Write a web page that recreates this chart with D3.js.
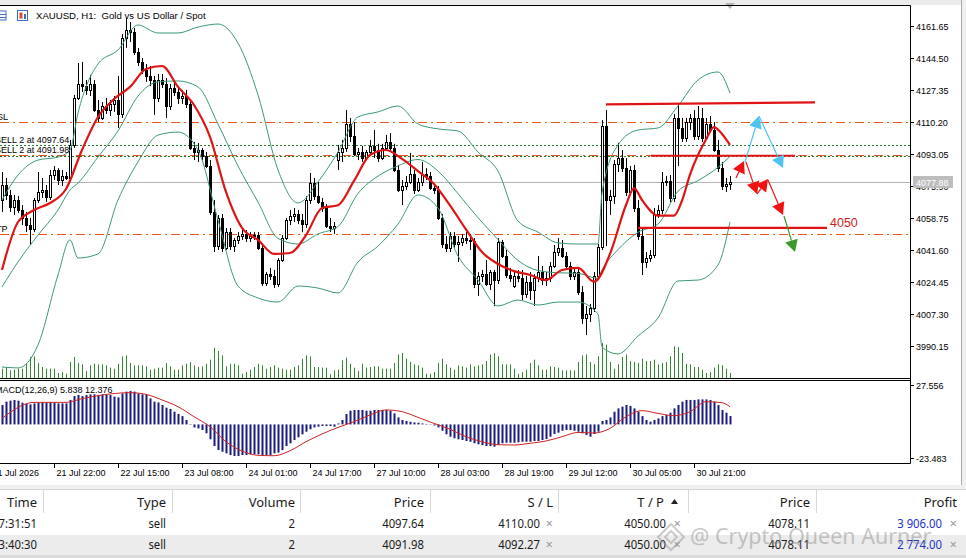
<!DOCTYPE html>
<html>
<head>
<meta charset="utf-8">
<script src="https://cdn.jsdelivr.net/npm/d3@7"></script>
<style>
  html, body { margin: 0; padding: 0; background: #fff; overflow: hidden; }
  svg { display: block; font-family: "Liberation Sans", Arial, sans-serif; }
</style>
</head>
<body>
<div id="chart"></div>
<script>
// XAUUSD H1 candles, bar index 0..182 (one bar per hour)
const opens = [
  4068.4,4076.4,4071.1,4064.7,4068.4,4063.0,4058.8,4055.0,4052.9,4068.4,
  4072.7,4073.8,4070.0,4081.8,4084.5,4079.1,4081.3,4080.2,4097.9,4123.1,
  4130.6,4129.5,4127.4,4130.6,4116.6,4112.4,4118.8,4116.6,4119.9,4122.0,
  4114.5,4155.2,4159.5,4158.4,4147.7,4142.4,4138.1,4134.9,4132.7,4123.1,
  4132.7,4130.6,4118.8,4128.4,4126.3,4123.1,4124.1,4119.9,4096.3,4094.2,
  4095.2,4092.0,4086.6,4062.0,4043.7,4058.8,4042.7,4051.2,4043.7,4047.0,
  4049.1,4050.2,4048.0,4049.1,4049.5,4042.7,4023.9,4028.7,4027.7,4023.4,
  4036.2,4048.0,4057.7,4059.8,4060.9,4057.7,4055.5,4068.4,4077.5,4070.5,
  4067.3,4064.1,4054.5,4053.4,4089.8,4094.2,4096.3,4109.2,4102.7,4093.1,
  4094.2,4090.9,4094.2,4097.4,4095.2,4090.9,4096.3,4099.5,4096.3,4084.5,
  4073.8,4075.9,4078.1,4082.3,4073.8,4078.1,4082.3,4081.3,4074.8,4073.8,
  4058.8,4044.8,4042.7,4049.1,4044.8,4045.9,4048.0,4047.0,4046.5,4023.4,
  4027.7,4028.7,4023.4,4029.8,4025.5,4045.9,4038.4,4028.2,4022.3,4027.7,
  4026.6,4018.0,4024.4,4020.2,4026.6,4029.8,4025.5,4026.6,4033.0,4040.5,
  4042.7,4038.4,4033.0,4027.7,4029.8,4019.1,4005.2,4007.3,4010.5,4027.7,
  4043.2,4108.1,4068.4,4070.5,4087.7,4090.9,4085.5,4072.7,4084.5,4064.1,
  4049.1,4035.2,4037.3,4038.9,4060.9,4063.0,4078.1,4078.6,4069.5,4112.4,
  4107.0,4101.7,4110.2,4112.4,4102.7,4112.4,4101.7,4109.2,4105.9,4095.2,
  4085.5,4075.9,4077.0
];
const highs = [
  4083.4,4080.2,4073.8,4071.1,4070.5,4065.7,4062.0,4058.8,4069.5,4083.4,
  4080.2,4076.4,4084.5,4086.6,4085.5,4084.5,4083.4,4100.6,4124.7,4141.8,
  4142.4,4132.7,4135.4,4132.7,4122.0,4120.9,4123.1,4122.0,4124.1,4134.9,
  4157.4,4165.9,4163.8,4160.6,4149.9,4144.5,4141.3,4140.2,4134.9,4135.9,
  4135.9,4133.8,4130.6,4131.7,4128.4,4127.4,4127.4,4122.0,4099.5,4099.0,
  4096.3,4094.2,4089.8,4068.4,4060.4,4060.9,4053.4,4053.4,4048.0,4051.2,
  4052.3,4052.3,4051.2,4051.2,4051.2,4044.3,4029.8,4032.0,4030.9,4037.3,
  4049.6,4058.8,4063.0,4064.1,4063.0,4060.9,4070.5,4082.9,4080.2,4078.1,
  4069.5,4066.3,4058.8,4056.6,4097.9,4100.6,4116.6,4112.4,4110.2,4096.3,
  4097.4,4095.2,4100.6,4105.9,4098.5,4098.5,4103.3,4104.3,4098.5,4087.2,
  4079.1,4081.3,4093.6,4084.5,4080.2,4088.8,4085.5,4083.4,4077.0,4075.9,
  4060.9,4049.1,4051.2,4051.2,4049.1,4050.2,4051.2,4050.2,4048.0,4029.8,
  4030.9,4036.2,4030.9,4031.0,4048.0,4047.0,4041.6,4032.0,4029.8,4030.9,
  4030.9,4027.7,4029.8,4028.7,4038.4,4033.0,4029.8,4035.2,4044.3,4048.0,
  4047.0,4040.5,4035.2,4032.0,4032.0,4022.3,4011.6,4012.7,4029.8,4044.8,
  4111.3,4116.6,4073.8,4089.8,4099.0,4095.2,4090.9,4086.6,4087.2,4068.4,
  4053.4,4040.5,4041.6,4064.1,4065.7,4083.4,4081.3,4081.8,4114.5,4120.4,
  4112.4,4112.4,4114.5,4116.6,4118.8,4117.7,4112.4,4113.4,4110.2,4100.6,
  4088.8,4080.2,4081.3
];
const lows = [
  4062.0,4068.4,4062.0,4060.4,4061.4,4055.0,4051.2,4044.3,4051.2,4066.8,
  4069.5,4067.3,4068.4,4079.1,4076.4,4075.9,4079.1,4078.1,4096.3,4122.0,
  4126.3,4124.7,4124.1,4115.6,4110.2,4111.3,4114.5,4113.4,4115.6,4107.0,
  4112.4,4149.9,4153.1,4146.1,4140.2,4135.9,4131.7,4129.5,4114.0,4120.9,
  4128.4,4112.4,4116.6,4124.1,4119.9,4119.9,4117.7,4095.2,4089.8,4088.8,
  4089.8,4085.5,4060.4,4040.5,4041.6,4040.5,4041.6,4041.6,4040.5,4044.8,
  4047.0,4045.9,4045.9,4047.0,4041.6,4022.3,4022.3,4025.5,4021.2,4021.8,
  4035.2,4047.0,4055.0,4056.6,4055.5,4051.2,4053.4,4066.3,4068.4,4066.3,
  4062.0,4053.4,4051.2,4050.2,4084.5,4088.8,4094.2,4099.5,4092.0,4089.8,
  4088.8,4089.8,4092.0,4090.9,4088.8,4089.8,4095.2,4094.2,4083.4,4072.7,
  4065.7,4073.8,4077.0,4071.6,4072.7,4075.9,4079.1,4073.8,4071.6,4057.7,
  4042.7,4040.5,4040.5,4042.7,4035.2,4043.7,4044.8,4041.6,4021.2,4017.0,
  4024.4,4022.3,4020.2,4011.6,4023.4,4037.3,4026.6,4024.4,4021.2,4024.4,
  4014.8,4015.9,4014.8,4011.6,4024.4,4022.8,4022.3,4024.4,4032.0,4038.4,
  4037.3,4032.0,4025.5,4025.5,4017.5,4002.0,3996.0,4003.0,4008.4,4025.5,
  4041.6,4043.7,4060.4,4066.3,4083.4,4083.4,4070.5,4071.1,4062.0,4047.0,
  4028.2,4032.0,4035.2,4037.3,4058.8,4060.9,4075.9,4067.3,4067.3,4086.6,
  4099.5,4099.5,4105.9,4100.6,4100.6,4099.5,4100.6,4104.8,4094.2,4083.4,
  4073.8,4072.7,4073.8
];
const closes = [
  4076.4,4071.1,4064.7,4068.4,4063.0,4058.8,4055.0,4052.9,4068.4,4072.7,
  4073.8,4070.0,4081.8,4084.5,4079.1,4081.3,4080.2,4097.9,4123.1,4130.6,
  4129.5,4127.4,4130.6,4116.6,4112.4,4118.8,4116.6,4119.9,4122.0,4114.5,
  4155.2,4159.5,4158.4,4147.7,4142.4,4138.1,4134.9,4132.7,4123.1,4132.7,
  4130.6,4118.8,4128.4,4126.3,4123.1,4124.1,4119.9,4096.3,4094.2,4095.2,
  4092.0,4086.6,4062.0,4043.7,4058.8,4042.7,4051.2,4043.7,4047.0,4049.1,
  4050.2,4048.0,4049.1,4049.5,4042.7,4023.9,4028.7,4027.7,4023.4,4036.2,
  4048.0,4057.7,4059.8,4060.9,4057.7,4055.5,4068.4,4077.5,4070.5,4067.3,
  4064.1,4054.5,4053.4,4054.5,4094.2,4096.3,4109.2,4102.7,4093.1,4094.2,
  4090.9,4094.2,4097.4,4095.2,4090.9,4096.3,4099.5,4096.3,4084.5,4073.8,
  4075.9,4078.1,4082.3,4073.8,4078.1,4082.3,4081.3,4074.8,4073.8,4058.8,
  4044.8,4042.7,4049.1,4044.8,4045.9,4048.0,4047.0,4046.5,4023.4,4027.7,
  4028.7,4023.4,4029.8,4025.5,4045.9,4038.4,4028.2,4026.6,4027.7,4026.6,
  4018.0,4024.4,4020.2,4026.6,4029.8,4025.5,4026.6,4033.0,4040.5,4042.7,
  4038.4,4033.0,4027.7,4029.8,4019.1,4005.2,4007.3,4010.5,4027.7,4043.2,
  4108.1,4068.4,4070.5,4087.7,4090.9,4085.5,4072.7,4084.5,4064.1,4049.1,
  4035.2,4037.3,4038.9,4060.9,4063.0,4078.1,4078.6,4069.5,4112.4,4107.0,
  4101.7,4110.2,4112.4,4102.7,4112.4,4101.7,4109.2,4105.9,4095.2,4085.5,
  4075.9,4077.0,4077.88
];
// tick volume per bar
const volumes = [
  2800,3300,2300,2500,2800,2800,4300,6300,6500,4500,
  3300,2800,2800,2800,1500,1800,1300,4800,6300,4500,
  4100,2100,3800,4300,4100,4100,3800,3100,2800,4300,
  6500,6800,4500,3800,3800,3800,3500,2500,2800,3100,
  3100,4500,3500,2500,2500,3800,4300,4800,3800,3300,
  3500,4300,5500,9100,8100,6800,3500,4300,4300,3800,
  1300,1800,2500,3300,4300,3800,2800,3300,3800,3100,
  2800,2500,2500,3300,3800,5800,6800,6500,3300,3300,
  3100,3100,1100,2300,2500,5300,6100,4300,3100,2100,
  4300,3100,3300,3500,3500,2800,2800,2800,4500,7100,
  7500,5800,4800,4100,3800,3100,1300,1300,1800,4500,
  5800,4100,3100,2500,3800,3500,3100,4100,3500,3800,
  4100,5100,7100,7500,6500,4100,4100,4100,2800,1300,
  1800,2500,4500,5500,3800,2500,2500,3500,3300,3100,
  2300,2300,2300,2300,4800,6800,7100,4800,4100,6500,
  10500,10000,4800,2800,4100,6300,7100,5100,4800,4500,
  5800,5100,5100,5500,4100,4500,4800,6500,9500,9300,
  7500,4300,4100,3300,3300,2500,1500,1800,3100,4100,
  3800,2800,1500
];

// moving average (red) sampled at these bars
const maBars = [0,4,8,12,16,20,24,28,32,36,40,44,48,52,56,60,64,68,72,76,80,84,88,92,96,
  100,104,108,112,116,120,124,128,132,136,140,144,148,152,156,158,160,164,168,170,172,176,178,180,182];
const maValues = [4030.9,4056.6,4063.0,4066.8,4074.3,4095.2,4112.9,4122.5,4129.0,4138.6,
  4140.2,4129.0,4119.3,4102.2,4072.7,4053.4,4047.0,4039.5,4040.0,4049.6,
  4064.1,4065.6,4078.6,4092.5,4095.2,4090.4,4083.9,4077.0,4065.5,4052.6,
  4040.5,4034.1,4030.3,4028.2,4025.5,4030.9,4032.0,4024.6,4039.5,4065.7,
  4074.8,4068.4,4060.0,4060.0,4068.1,4082.0,4100.8,4107.5,4103.8,4097.9];

// Bollinger bands (green) sampled at these bars
const bandBars = [0,4,9,14,17,19,24,29,34,39,44,49,54,59,64,69,74,79,84,89,94,99,104,109,114,
  119,124,129,134,139,144,149,150,154,159,164,169,174,179,182];
const bandUpper = [4068.4,4081.8,4089.8,4091.4,4095.2,4115.0,4141.3,4148.8,4162.2,4157.9,
  4157.9,4161.1,4162.7,4152.5,4124.7,4084.5,4066.8,4078.1,4094.1,4112.9,
  4115.6,4118.8,4109.1,4106.5,4105.4,4094.1,4083.9,4057.1,4051.2,4045.4,
  4044.8,4044.8,4072.2,4097.9,4105.9,4107.0,4118.8,4132.7,4137.0,4125.7];
const bandMiddle = [4021.8,4035.2,4049.6,4063.0,4073.8,4077.5,4091.4,4105.4,4124.1,4131.7,
  4132.2,4129.0,4109.1,4086.6,4067.3,4047.8,4044.8,4050.2,4054.2,4071.9,
  4081.2,4086.7,4090.1,4083.9,4071.8,4058.9,4047.2,4036.0,4030.6,4029.4,
  4029.1,4026.4,4030.9,4041.8,4051.1,4055.5,4073.1,4078.8,4085.9,4091.8];
const bandLower = [3978.9,3978.4,3990.7,4028.2,4047.0,4037.3,4039.5,4068.4,4088.8,4103.2,
  4104.8,4095.2,4057.7,4022.3,4015.9,4013.7,4022.3,4021.2,4018.6,4035.2,
  4043.7,4055.5,4071.1,4064.1,4038.4,4025.5,4011.6,4014.8,4012.1,4013.7,
  4013.7,4007.3,3989.6,3985.9,3995.5,4005.2,4025.0,4025.5,4033.6,4056.6];

// MACD(12,26,9) main value per bar (histogram)
const macdMain = [
  13.6,15.9,16.6,17.1,16.6,15.2,14.3,14.0,14.7,15.2,
  15.4,15.4,15.4,15.2,14.7,14.7,14.7,17.1,19.8,20.6,
  19.8,20.6,21.0,21.0,20.6,21.0,20.6,20.6,19.4,18.9,
  21.7,22.9,23.4,22.9,21.7,21.0,20.6,18.2,15.9,15.4,
  13.6,11.7,10.8,8.9,7.3,5.8,3.1,0.3,-2.1,-2.8,
  -3.9,-6.2,-10.4,-15.1,-17.9,-19.1,-20.2,-21.4,-22.1,-22.1,
  -21.4,-21.4,-20.9,-20.9,-20.9,-21.4,-21.4,-21.4,-20.2,-19.7,
  -17.9,-15.1,-13.2,-10.9,-9.0,-6.9,-5.1,-3.4,-2.1,-1.6,
  -1.1,-1.1,-1.1,-1.6,0.7,3.1,7.3,9.6,10.1,10.1,
  10.1,9.6,9.6,10.1,10.1,10.1,10.1,9.6,7.7,4.9,
  3.1,2.4,1.9,1.4,1.2,0.7,0.3,-0.2,-0.7,-2.1,
  -4.4,-6.9,-8.6,-9.7,-10.4,-10.9,-11.6,-12.1,-13.2,-13.9,
  -14.4,-15.1,-15.1,-15.6,-14.4,-13.2,-12.8,-12.8,-12.8,-12.5,
  -12.1,-12.1,-12.1,-11.6,-11.6,-10.9,-10.2,-8.6,-6.7,-5.8,
  -4.4,-3.9,-3.9,-4.4,-5.1,-6.2,-7.4,-8.6,-6.7,-5.1,
  2.4,3.1,4.9,8.9,11.2,12.4,13.6,12.9,11.2,8.9,
  5.8,3.1,1.9,3.1,4.2,5.8,6.6,8.2,11.2,13.6,
  15.9,17.1,17.1,17.1,17.5,17.5,17.5,17.1,15.9,13.6,
  10.1,8.2,5.838
];
// MACD signal line sampled at these bars
const signalBars = [0,8,16,20,24,32,36,40,44,48,52,56,60,64,68,72,76,80,84,88,92,96,100,104,108,
  112,116,120,124,128,132,136,140,144,148,152,156,160,164,168,172,176,180,182];
const signalValues = [4.2,15.4,15.4,18.0,20.1,22.2,21.0,17.1,12.4,5.4,-1.6,-12.1,-18.6,-21.6,-21.9,
  -18.4,-12.1,-6.7,-2.1,1.9,6.6,10.1,8.9,4.9,0.7,-3.4,-8.6,-12.1,-14.2,-14.4,
  -13.2,-11.6,-8.6,-5.6,-6.0,-2.8,5.4,9.6,7.7,6.1,8.9,15.9,15.2,12.376];

// time axis
const timeTickBars = [-3,13,29,45,61,77,93,109,125,141,157,173];
const timeTickLabels = ["21 Jul 2026","21 Jul 22:00","22 Jul 15:00","23 Jul 08:00","24 Jul 01:00",
  "24 Jul 17:00","27 Jul 10:00","28 Jul 03:00","28 Jul 19:00","29 Jul 12:00","30 Jul 05:00","30 Jul 21:00"];
const priceTicks = [4161.65,4144.50,4127.35,4110.20,4093.05,4075.90,4058.75,4041.60,4024.45,4007.30,3990.15];
const macdTicks = [27.556,-23.483];
const bidPrice = 4077.88;

// open positions
const posTime = ["7:31:51","3:40:30"];
const posType = ["sell","sell"];
const posVolume = ["2","2"];
const posPrice = [4097.64,4091.98];
const posSL = [4110.00,4092.27];
const posTP = [4050.00,4050.00];
const posMarket = [4078.11,4078.11];
const posProfit = ["3 906.00","2 774.00"];

// hand drawn levels: from bar, to bar, price at start, price at end
const levelFromBar = [151,162.25,159];
const levelToBar = [203.25,198.25,206.25];
const levelFromPrice = [4119.6,4092.1,4053.5];
const levelToPrice = [4120.7,4092.1,4053.5];
const levelText = "4050";

// hand drawn arrows
const arrowKind = ["red","red","red","red","green","blue","blue"];
const arrowFromBar = [183.5,186,188.75,191.5,195.5,185.75,189.25];
const arrowToBar = [185.5,188.75,191.5,195.25,198.25,189.25,195.25];
const arrowFromPrice = [4080.2,4088.8,4071.6,4079.1,4059.8,4088.8,4113.4];
const arrowToPrice = [4089.3,4071.6,4079.7,4060.4,4040.5,4113.4,4085.5];

const W = 966, H = 558;
const plotRight = 910;
const svg = d3.select("#chart").append("svg").attr("width", W).attr("height", H);

const x = d3.scaleLinear().domain([0, 182]).range([2, 730]);
const y = d3.scaleLinear().domain([3990.15, 4161.65]).range([346, 26]);
const yVol = d3.scaleLinear().domain([0, 10500]).range([378, 343]);
const yMacd = d3.scaleLinear().domain([-23.483, 27.556]).range([458, 385]);

// window chrome
svg.append("rect").attr("x", 0).attr("y", 0).attr("width", W).attr("height", 5).attr("fill", "#ececec");
svg.append("rect").attr("x", 962).attr("y", 0).attr("width", 4).attr("height", 486).attr("fill", "#f0f0f0");
svg.append("line").attr("x1", 961.5).attr("x2", 961.5).attr("y1", 0).attr("y2", 486).attr("stroke", "#a8a8a8");
svg.append("path").attr("d", "M725,3 L735,3 L730,9 Z").attr("fill", "#b4b4b4");

const defs = svg.append("defs");
defs.append("clipPath").attr("id", "clipMain").append("rect")
  .attr("x", 0).attr("y", 6).attr("width", plotRight).attr("height", 372);
defs.append("clipPath").attr("id", "clipMacd").append("rect")
  .attr("x", 0).attr("y", 381).attr("width", plotRight).attr("height", 82);

const main = svg.append("g").attr("clip-path", "url(#clipMain)");

// bid line
main.append("line").attr("x1", 0).attr("x2", plotRight)
  .attr("y1", Math.round(y(bidPrice)) + 0.5).attr("y2", Math.round(y(bidPrice)) + 0.5)
  .attr("stroke", "#b4b4b4");

// trade levels: entries (green dots), stops and targets (orange dash-dot)
function levelLine(price, color, dash) {
  const yy = Math.round(y(price)) + 0.5;
  main.append("line").attr("x1", 0).attr("x2", plotRight).attr("y1", yy).attr("y2", yy)
    .attr("stroke", color).attr("stroke-dasharray", dash);
}
posPrice.forEach((p) => levelLine(p, "#2a7d2a", "2,2"));
posSL.forEach((p) => levelLine(p, "#e8561c", "9,4,2,4"));
levelLine(posTP[0], "#e8561c", "9,4,2,4");

// volumes
main.selectAll(".vol").data(volumes).enter().append("line")
  .attr("x1", (d, i) => Math.round(x(i)) + 0.5).attr("x2", (d, i) => Math.round(x(i)) + 0.5)
  .attr("y1", 378).attr("y2", (d) => yVol(d))
  .attr("stroke", "#2e8b2e").attr("stroke-width", 1);

// candles
const candles = main.selectAll(".candle").data(closes).enter().append("g");
candles.append("line")
  .attr("x1", (d, i) => Math.round(x(i)) + 0.5).attr("x2", (d, i) => Math.round(x(i)) + 0.5)
  .attr("y1", (d, i) => y(highs[i])).attr("y2", (d, i) => y(lows[i]))
  .attr("stroke", "#000");
candles.append("rect")
  .attr("x", (d, i) => Math.round(x(i)) - 0.5)
  .attr("y", (d, i) => Math.round(y(Math.max(opens[i], d))) + 0.5)
  .attr("width", 2)
  .attr("height", (d, i) => Math.max(0, Math.round(y(Math.min(opens[i], d))) - Math.round(y(Math.max(opens[i], d)))))
  .attr("fill", (d, i) => (d >= opens[i] ? "#fff" : "#000"))
  .attr("stroke", "#000");

// bollinger bands
const bandLine = d3.line().x((d) => x(d[0])).y((d) => y(d[1])).curve(d3.curveMonotoneX);
[bandUpper, bandMiddle, bandLower].forEach((band) => {
  main.append("path").datum(bandBars.map((b, i) => [b, band[i]]))
    .attr("d", bandLine).attr("fill", "none")
    .attr("stroke", "#3d9a76").attr("stroke-width", 1);
});

// moving average
main.append("path").datum(maBars.map((b, i) => [b, maValues[i]]))
  .attr("d", bandLine).attr("fill", "none")
  .attr("stroke", "#dd1515").attr("stroke-width", 2.2);

// trade labels (cut at the left edge like in the terminal)
const tradeLabels = [
  { t: "SL", p: posSL[0], dx: -3 },
  { t: "SELL 2 at " + posPrice[0].toFixed(2), p: posPrice[0], dx: -5 },
  { t: "SELL 2 at " + posPrice[1].toFixed(2), p: posPrice[1], dx: -5 },
  { t: "TP", p: posTP[0], dx: -4 },
];
main.selectAll(".tlabel").data(tradeLabels).enter().append("text")
  .attr("x", (d) => d.dx).attr("y", (d) => y(d.p) - 2.5)
  .attr("font-size", 9).attr("fill", "#000").text((d) => d.t);

// hand drawn levels
levelFromBar.forEach((b, i) => {
  main.append("line")
    .attr("x1", x(b)).attr("x2", x(levelToBar[i]))
    .attr("y1", y(levelFromPrice[i])).attr("y2", y(levelToPrice[i]))
    .attr("stroke", "#e01414").attr("stroke-width", 2.2);
});
main.append("text").attr("x", x(levelToBar[2]) + 3).attr("y", y(levelToPrice[2]) - 1)
  .attr("font-size", 12.5).attr("fill", "#d41a1a").text(levelText);

// hand drawn arrows
const arrowColor = { red: "#f01212", green: "#3b982b", blue: "#4fc3ef" };
arrowKind.forEach((k, i) => {
  const x0 = x(arrowFromBar[i]), y0 = y(arrowFromPrice[i]);
  const x1 = x(arrowToBar[i]), y1 = y(arrowToPrice[i]);
  const len = Math.hypot(x1 - x0, y1 - y0);
  const ux = (x1 - x0) / len, uy = (y1 - y0) / len;
  const hl = 12, hw = 6.5;
  const bx = x1 - ux * hl, by = y1 - uy * hl;
  main.append("line").attr("x1", x0).attr("y1", y0).attr("x2", bx).attr("y2", by)
    .attr("stroke", arrowColor[k]).attr("stroke-width", 1.2);
  main.append("path")
    .attr("d", `M${x1},${y1} L${bx - uy * hw},${by + ux * hw} L${bx + uy * hw},${by - ux * hw} Z`)
    .attr("fill", arrowColor[k]);
});

// title
const title = svg.append("g");
title.append("rect").attr("x", -4).attr("y", 11).attr("width", 10).attr("height", 9)
  .attr("fill", "#fff").attr("stroke", "#3a6fc4");
title.append("line").attr("x1", -4).attr("x2", 6).attr("y1", 14.5).attr("y2", 14.5).attr("stroke", "#3a6fc4");
title.append("line").attr("x1", -4).attr("x2", 6).attr("y1", 17.5).attr("y2", 17.5).attr("stroke", "#3a6fc4");
title.append("rect").attr("x", 17.5).attr("y", 10.5).attr("width", 10).attr("height", 10)
  .attr("fill", "#fff").attr("stroke", "#3a6fc4");
title.append("rect").attr("x", 19.5).attr("y", 12.5).attr("width", 3).attr("height", 6).attr("fill", "#e04a2a");
title.append("rect").attr("x", 24).attr("y", 14).attr("width", 2).attr("height", 5).attr("fill", "#3a6fc4");
title.append("text").attr("x", 36).attr("y", 19).attr("font-size", 9.6).attr("fill", "#000")
  .attr("xml:space", "preserve").text("XAUUSD, H1:  Gold vs US Dollar / Spot");

// panel frames
svg.append("line").attr("x1", 0).attr("x2", plotRight + 0.5).attr("y1", 5.5).attr("y2", 5.5).attr("stroke", "#000");
svg.append("line").attr("x1", plotRight + 0.5).attr("x2", plotRight + 0.5).attr("y1", 5.5).attr("y2", 463.5).attr("stroke", "#000");
svg.append("line").attr("x1", 0).attr("x2", plotRight).attr("y1", 378.5).attr("y2", 378.5).attr("stroke", "#000");
svg.append("line").attr("x1", 0).attr("x2", plotRight).attr("y1", 380.5).attr("y2", 380.5).attr("stroke", "#000");
svg.append("line").attr("x1", 0).attr("x2", plotRight + 0.5).attr("y1", 463.5).attr("y2", 463.5).attr("stroke", "#000");

// price axis
const pAxis = svg.append("g");
priceTicks.forEach((p) => {
  const yy = Math.round(y(p)) + 0.5;
  pAxis.append("line").attr("x1", plotRight).attr("x2", plotRight + 4).attr("y1", yy).attr("y2", yy).attr("stroke", "#000");
  pAxis.append("text").attr("x", plotRight + 6).attr("y", yy + 3.2).attr("font-size", 9).attr("fill", "#000").text(p.toFixed(2));
});
const by0 = Math.round(y(bidPrice));
pAxis.append("rect").attr("x", plotRight + 3).attr("y", by0 - 6).attr("width", 40).attr("height", 12).attr("fill", "#bdbdbd");
pAxis.append("text").attr("x", plotRight + 6).attr("y", by0 + 3.5).attr("font-size", 9).attr("fill", "#fff").text(bidPrice.toFixed(2));

// MACD panel
const macd = svg.append("g").attr("clip-path", "url(#clipMacd)");
const zero = yMacd(0);
macd.selectAll(".hist").data(macdMain).enter().append("rect")
  .attr("x", (d, i) => Math.round(x(i)) - 0.5)
  .attr("width", 2)
  .attr("y", (d) => (d >= 0 ? yMacd(d) : zero))
  .attr("height", (d) => Math.abs(yMacd(d) - zero))
  .attr("fill", "#1b1b7e");
macd.append("path").datum(signalBars.map((b, i) => [b, signalValues[i]]))
  .attr("d", d3.line().x((d) => x(d[0])).y((d) => yMacd(d[1])).curve(d3.curveMonotoneX))
  .attr("fill", "none").attr("stroke", "#cf2424").attr("stroke-width", 1);
macd.append("text").attr("x", -5).attr("y", 393).attr("font-size", 9).attr("fill", "#000")
  .text("MACD(12,26,9) " + macdMain[182].toFixed(3) + " " + signalValues[signalValues.length - 1].toFixed(3));
macdTicks.forEach((v) => {
  const yy = Math.round(yMacd(v)) + 0.5;
  svg.append("line").attr("x1", plotRight).attr("x2", plotRight + 4).attr("y1", yy).attr("y2", yy).attr("stroke", "#000");
  svg.append("text").attr("x", plotRight + 6).attr("y", yy + 3.2).attr("font-size", 9).attr("fill", "#000").text(v.toFixed(3));
});

// time axis
timeTickBars.forEach((b, i) => {
  const xx = Math.round(x(b)) + 0.5;
  svg.append("line").attr("x1", xx).attr("x2", xx).attr("y1", 463).attr("y2", 468).attr("stroke", "#000");
  svg.append("text").attr("x", xx + 2).attr("y", 476).attr("font-size", 9).attr("fill", "#000").text(timeTickLabels[i]);
});

// positions table
svg.append("rect").attr("x", 0).attr("y", 485).attr("width", W).attr("height", 4).attr("fill", "#f0f0f0");
svg.append("line").attr("x1", 0).attr("x2", W).attr("y1", 489.5).attr("y2", 489.5).attr("stroke", "#d6d6d6");
svg.append("rect").attr("x", 0).attr("y", 535).attr("width", W).attr("height", 20).attr("fill", "#ececec");
svg.append("rect").attr("x", 0).attr("y", 555).attr("width", W).attr("height", 3).attr("fill", "#dcdcdc");
[43, 172, 300, 430, 558, 688, 816].forEach((c) => {
  svg.append("line").attr("x1", c + 0.5).attr("x2", c + 0.5).attr("y1", 490).attr("y2", 513).attr("stroke", "#d8d8d8");
});
const tbl = svg.append("g").attr("font-family", "'Noto Sans', 'Open Sans', sans-serif").attr("font-size", 13);
const headers = [["Time", 37], ["Type", 166], ["Volume", 295], ["Price", 424], ["S / L", 553], ["T / P", 664], ["Price", 810], ["Profit", 957]];
headers.forEach((h) => {
  tbl.append("text").attr("x", h[1]).attr("y", 507).attr("text-anchor", "end").attr("fill", "#1a1a1a").text(h[0]);
});
tbl.append("path").attr("d", "M671,504 L678,504 L674.5,499 Z").attr("fill", "#222");

// the terminal's table font is narrow, so cells are squeezed horizontally
const squeeze = 0.87;
function cell(txt, right, row, color) {
  tbl.append("text").attr("transform", `translate(${right},${528 + row * 20.5}) scale(${squeeze},1)`)
    .attr("text-anchor", "end").attr("fill", color || "#1a1a1a").text(txt);
}
function cross(right, row) {
  tbl.append("text").attr("x", right).attr("y", 528 + row * 20.5).attr("text-anchor", "end")
    .attr("fill", "#9a9a9a").text("×");
}
posTime.forEach((t, r) => {
  cell(t, 37, r);
  cell(posType[r], 166, r);
  cell(posVolume[r], 295, r);
  cell(posPrice[r].toFixed(2), 424, r);
  cell(posSL[r].toFixed(2), 540, r); cross(553, r);
  cell(posTP[r].toFixed(2), 666, r); cross(681, r);
  cell(posMarket[r].toFixed(2), 810, r);
  cell(posProfit[r], 942, r, "#2230c8"); cross(957, r);
});

// watermark
const wm = svg.append("g").attr("opacity", 0.42);
wm.append("path").attr("d", "M671,524 L684,537 L671,550 L658,537 Z").attr("fill", "none").attr("stroke", "#8a8a8a").attr("stroke-width", 2);
wm.append("path").attr("d", "M671,531 L677,537 L671,543 L665,537 Z").attr("fill", "none").attr("stroke", "#8a8a8a").attr("stroke-width", 2);
wm.append("text").attr("x", 690).attr("y", 544).attr("font-family", "'Noto Sans', sans-serif")
  .attr("font-size", 21.5).attr("fill", "#808080").text("@ Crypto Queen Aurner");
</script>
</body>
</html>
